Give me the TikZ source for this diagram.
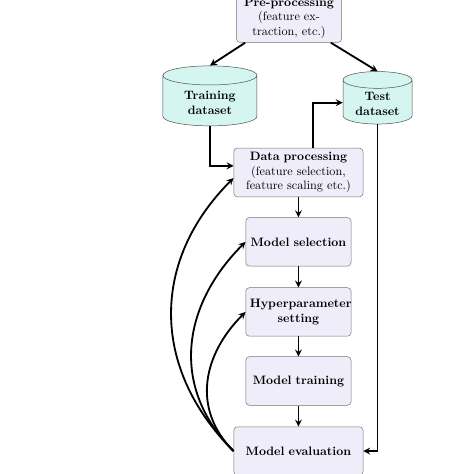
\documentclass[tikz,border=0pt]{standalone}
\usetikzlibrary{shapes.geometric}
\definecolor{boxfill}{RGB}{239,237,250}
\definecolor{dbfill}{RGB}{212,245,240}

\begin{document}
\begin{tikzpicture}[
	stepbox/.style={draw=black!55, fill=boxfill, rounded corners=3pt, align=center, minimum height=1.4cm, text width=2.8cm},
	widebox/.style={stepbox, text width=3.49cm},
	dbnode/.style={cylinder, shape border rotate=90, aspect=0.32, draw=black!70, fill=dbfill, align=center},
	flow/.style={-stealth, line width=1.5pt}
]
	\useasboundingbox (0,0) rectangle (13.66,13.66);
	% data sets
	\node[stepbox] (pre) at (8.33,13.14) {\textbf{Pre-processing}\\(feature ex-\\traction, etc.)};
	\node[dbnode, minimum width=2.71cm, minimum height=1.73cm] (train) at (6.05,10.70) {\textbf{Training}\\\textbf{dataset}};
	\node[dbnode, minimum width=1.99cm, minimum height=1.5cm] (test) at (10.88,10.66) {\textbf{Test}\\\textbf{dataset}};
	% learning chain
	\node[widebox] (dp) at (8.60,8.69) {\textbf{Data processing}\\(feature selection,\\feature scaling etc.)};
	\node[stepbox] (ms) at (8.60,6.69) {\textbf{Model selection}};
	\node[stepbox] (hp) at (8.60,4.67) {\textbf{Hyperparameter}\\\textbf{setting}};
	\node[stepbox] (mt) at (8.60,2.68) {\textbf{Model training}};
	\node[widebox] (me) at (8.60,0.66) {\textbf{Model evaluation}};

	\draw[flow] ([xshift=0.26cm]pre.south west) -- (train.north);
	\draw[flow] ([xshift=-0.32cm]pre.south east) -- (test.north);
	\draw[flow] (train.south) |- ([yshift=0.19cm]dp.west);
	\draw[flow] ([xshift=0.42cm]dp.north) |- ([yshift=0.04cm]test.west);
	\draw[flow] (test.south) |- (me.east);
	\foreach \a/\b in {dp/ms, ms/hp, hp/mt, mt/me}
		\draw[flow] (\a) -- (\b);
	% feedback loops
	\foreach \t/\s in {dp/-0.16, ms/0, hp/0}
		\draw[flow] (me.west) to[out=135, in=225, looseness=1.1] ([yshift=\s cm]\t.west);
\end{tikzpicture}
\end{document}
